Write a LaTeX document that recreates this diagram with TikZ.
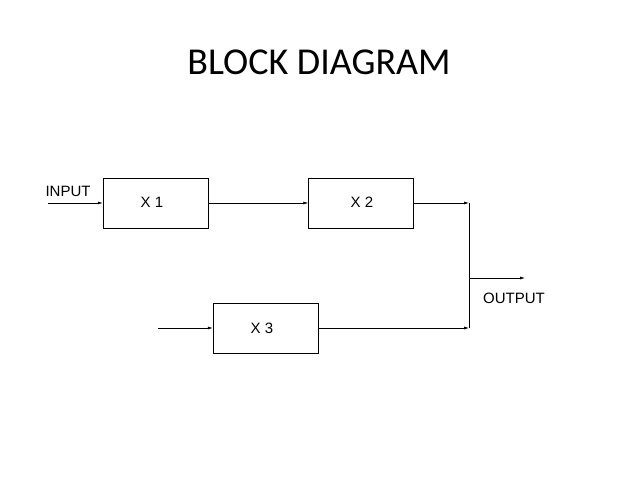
\documentclass[tikz,border=0pt]{standalone}
\usepackage{fontspec}
\setmainfont{Carlito}
\newfontfamily\arialf{Liberation Sans}
\usetikzlibrary{arrows.meta}
\begin{document}
\begin{tikzpicture}[x=1pt,y=-1pt,
  blk/.style={draw,minimum width=105pt,minimum height=50pt,inner sep=0pt},
  lbl/.style={font=\arialf\fontsize{15}{15}\selectfont,inner sep=0pt},
  arr/.style={-{Latex[length=5pt,width=3pt]},line width=0.6pt},
  ln/.style={line width=0.6pt}]
\useasboundingbox (0,0) rectangle (638,478);
\node[font=\fontsize{38}{38}\selectfont] (title) at (319,62) {BLOCK DIAGRAM};
\node[blk] (x1) at (155.5,203) {};
\node[blk] (x2) at (361,203) {};
\node[blk] (x3) at (265.5,328) {};
\node[lbl] (t1) at (152,202) {X 1};
\node[lbl] (t2) at (362,202) {X 2};
\node[lbl] (t3) at (262,328) {X 3};
\node[lbl] (inl) at (68,191) {INPUT};
\node[lbl] (outl) at (514,298) {OUTPUT};
\coordinate (in) at (48,203);
\coordinate (in3) at (158,328);
\coordinate (j1) at (469,203);
\coordinate (j2) at (469,328);
\coordinate (jm) at (469,278);
\coordinate (out) at (525,278);
\draw[arr] (in) -- (x1.west);
\draw[arr] (x1.east) -- (x2.west);
\draw[arr] (x2.east) -- (j1);
\draw[arr] (in3) -- (x3.west);
\draw[arr] (x3.east) -- (j2);
\draw[ln] (j1) -- (j2);
\draw[arr] (jm) -- (out);
\end{tikzpicture}
\end{document}
